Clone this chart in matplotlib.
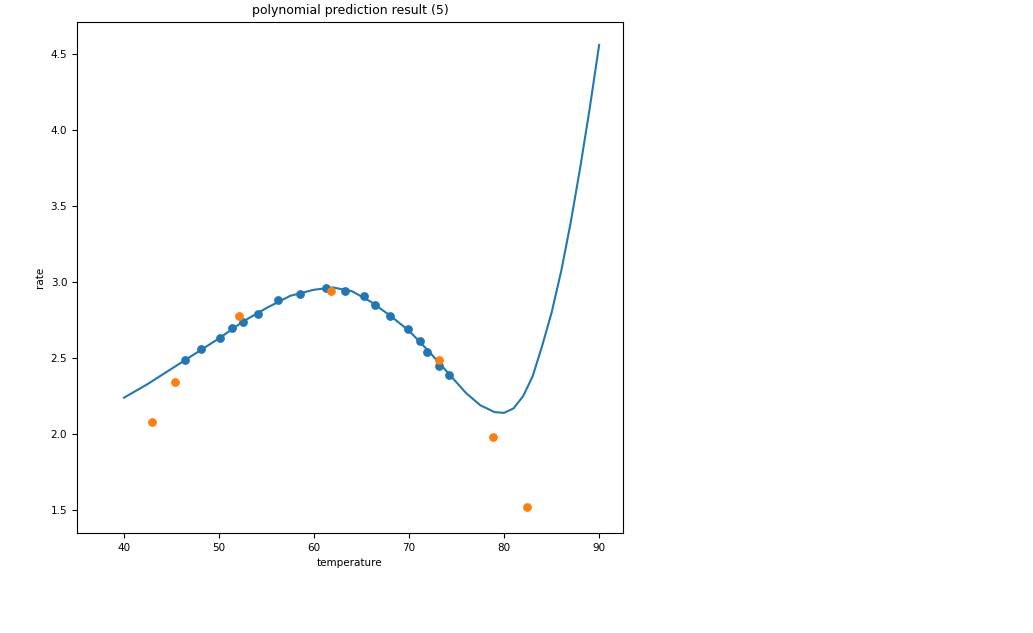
import matplotlib
matplotlib.use("Agg")
import matplotlib.pyplot as plt

plt.rcParams["font.size"] = 7.5

# training points (blue)
train_x = [46.4, 48.1, 50.1, 51.4, 52.5, 54.1, 56.2, 58.5, 61.3, 63.3, 65.3,
           66.4, 68.0, 69.9, 71.1, 71.9, 73.2, 74.2]
train_y = [2.49, 2.56, 2.63, 2.70, 2.74, 2.79, 2.88, 2.92, 2.96, 2.94, 2.91,
           2.85, 2.78, 2.69, 2.61, 2.54, 2.45, 2.39]

# test points (orange)
test_x = [42.9, 45.4, 52.1, 61.8, 73.1, 78.8, 82.4]
test_y = [2.08, 2.34, 2.78, 2.94, 2.49, 1.98, 1.52]

# predicted curve
curve_x = [40, 42.5, 45, 47.5, 50, 52.5, 55, 57.5, 60, 62, 64, 66, 68, 70,
           72, 74, 76, 77.5, 79, 80, 81, 82, 83, 84, 85, 86, 87, 88, 89, 90]
curve_y = [2.24, 2.33, 2.43, 2.53, 2.63, 2.74, 2.83, 2.91, 2.95, 2.965, 2.94,
           2.87, 2.78, 2.68, 2.55, 2.41, 2.27, 2.19, 2.145, 2.14, 2.17, 2.25,
           2.38, 2.58, 2.80, 3.07, 3.39, 3.75, 4.14, 4.56]

fig = plt.figure(figsize=(10.33, 6.33), dpi=100)
ax = fig.add_axes([0.0745, 0.158, 0.5285, 0.807])
ax.plot(curve_x, curve_y, color="#1f77b4")
ax.scatter(train_x, train_y, color="#1f77b4", s=28, zorder=3)
ax.scatter(test_x, test_y, color="#ff7f0e", s=28, zorder=3)
ax.set_title("polynomial prediction result (5)", fontsize=9)
ax.set_xlabel("temperature")
ax.set_ylabel("rate")
ax.set_xlim(35.05, 92.5)
ax.set_ylim(1.35, 4.71)
fig.savefig("out.png")
